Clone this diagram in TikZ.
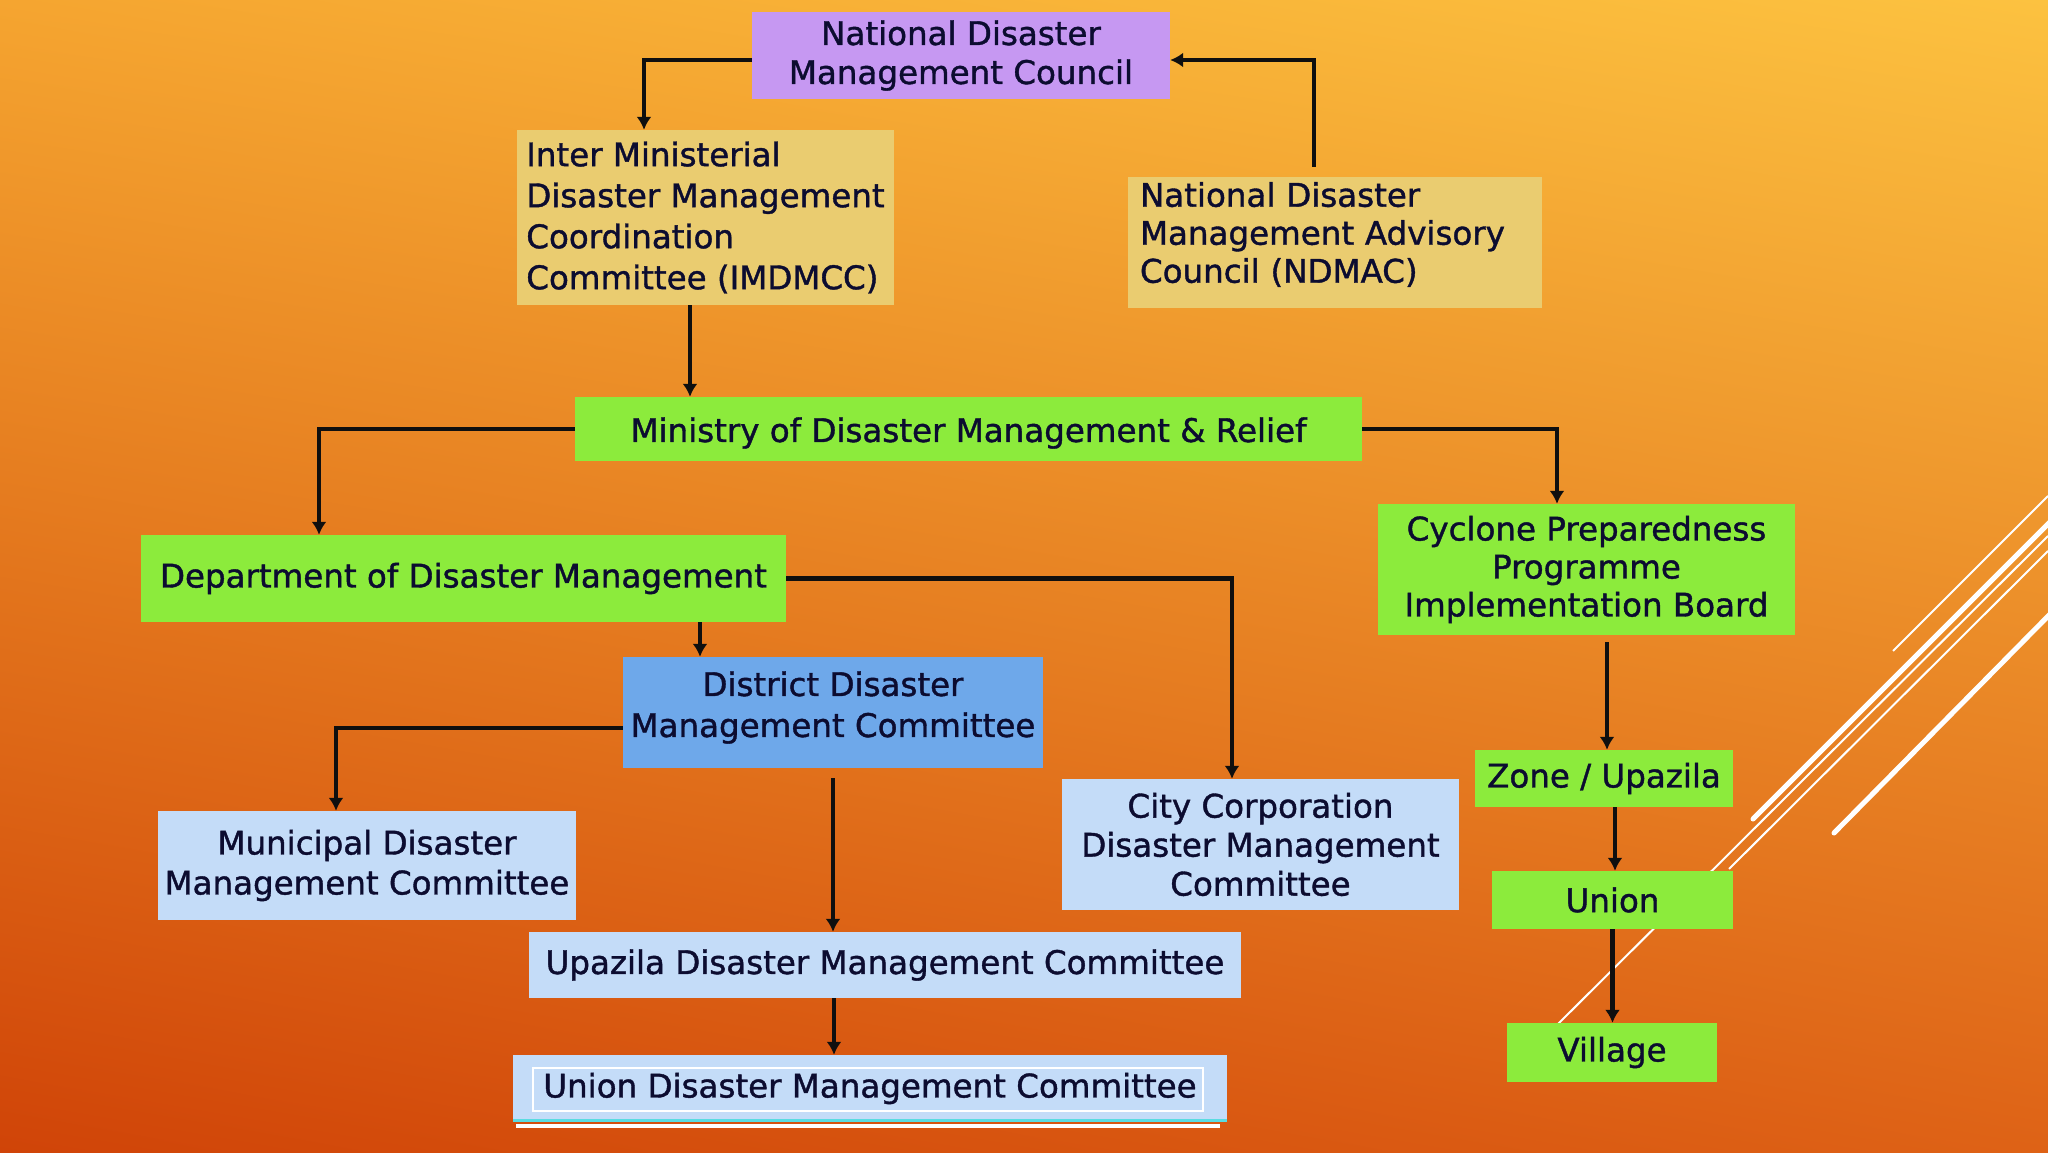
\documentclass[tikz,border=0pt]{standalone}
\usepackage{fontspec}
\setmainfont[FakeBold=1.2]{DejaVu Sans}
\usetikzlibrary{arrows.meta,calc,shadings}
\definecolor{txt}{RGB}{12,12,48}
\definecolor{grn}{RGB}{140,235,60}
\definecolor{pur}{RGB}{198,152,242}
\definecolor{tanb}{RGB}{234,204,112}
\definecolor{lbl}{RGB}{196,220,248}
\definecolor{dbl}{RGB}{110,168,234}
\definecolor{lnc}{RGB}{15,15,15}
\definecolor{cyn}{RGB}{90,220,225}
\definecolor{bgul}{RGB}{245,165,48}
\definecolor{bgur}{RGB}{252,194,64}
\definecolor{bgll}{RGB}{208,68,8}
\definecolor{bglr}{RGB}{222,98,22}
\newcommand\fsz[1]{\fontsize{32.5}{#1}\selectfont}
\begin{document}
\begin{tikzpicture}[x=1pt,y=-1pt,
  bx/.style={inner sep=0pt, align=center, text=txt, font=\fsz{39}},
  gbox/.style={bx, fill=grn},
  pbox/.style={bx, fill=pur},
  tbox/.style={bx, fill=tanb, align=left},
  lbox/.style={bx, fill=lbl},
  dbox/.style={bx, fill=dbl},
  arr/.style={draw=lnc, line width=4.5pt, -{Latex[length=13pt,width=15pt]}},
  thinw/.style={draw=white, line width=2pt},
  thickw/.style={draw=white, line width=5pt, line cap=round}]
\useasboundingbox (0,0) rectangle (2048,1152);
\shade[upper left=bgul, upper right=bgur, lower left=bgll, lower right=bglr] (0,0) rectangle (2048,1152);

% decorative lines
\draw[thinw] (1893,651) -- (2048,496);
\draw[thickw] (1753,819) -- (2060,512);
\draw[thinw] (1558,1024) -- (2048,536);
\draw[thinw] (1729,869) -- (2048,551);
\draw[thickw] (1834,833) -- (2060,604);

% boxes
\node[pbox, minimum width=418pt, minimum height=87pt] (ndmc) at (961,55.5) {National Disaster\\Management Council};
\node[tbox, font=\fsz{41}, minimum width=377pt, minimum height=175pt] (imdmcc) at (705.5,217.5) {Inter Ministerial\\Disaster Management\\Coordination\\Committee (IMDMCC)};
\node[tbox, minimum width=414pt, minimum height=131pt] (ndmac) at (1335,242.5) {};
\node[bx, align=left, font=\fsz{38}, text width=390pt, anchor=center] (ndmactxt) at ([yshift=8pt]ndmac.center) {National Disaster\\Management Advisory\\Council (NDMAC)};
\node[gbox, minimum width=787pt, minimum height=64pt] (ministry) at (968.5,429) {};
\node[bx] (ministrytxt) at ([yshift=-4pt]ministry.center) {Ministry of Disaster Management \& Relief};
\node[gbox, minimum width=645pt, minimum height=87pt] (dept) at (463.5,578.5) {Department of Disaster Management};
\node[gbox, font=\fsz{38}, minimum width=417pt, minimum height=131pt] (cppib) at (1586.5,569.5) {Cyclone Preparedness\\Programme\\Implementation Board};
\node[dbox, minimum width=420pt, minimum height=111pt] (district) at (833,712.5) {};
\node[bx, font=\fsz{41}] (districttxt) at ([yshift=5pt]district.center) {District Disaster\\Management Committee};
\node[lbox, font=\fsz{40}, minimum width=418pt, minimum height=109pt] (municipal) at (367,865.5) {Municipal Disaster\\Management Committee};
\node[lbox, minimum width=397pt, minimum height=131pt] (city) at (1260.5,844.5) {City Corporation\\Disaster Management\\Committee};
\node[lbox, minimum width=712pt, minimum height=66pt] (upazila) at (885,965) {Upazila Disaster Management Committee};
\node[lbox, minimum width=714pt, minimum height=67pt] (udmc) at (870,1088.5) {Union Disaster Management Committee};
\draw[white, line width=1.5pt] ($(udmc.north west)+(20,13)$) rectangle ($(udmc.south east)+(-24,-11)$);
\draw[cyn, line width=3pt] ($(udmc.south west)+(0,-2)$) -- ($(udmc.south east)+(0,-2)$);
\draw[white, line width=4pt] ($(udmc.south west)+(3,4)$) -- ($(udmc.south east)+(-7,4)$);
\node[gbox, minimum width=258pt, minimum height=57pt] (zone) at (1604,778.5) {Zone / Upazila};
\node[gbox, minimum width=241pt, minimum height=58pt] (union) at (1612.5,900) {Union};
\node[gbox, minimum width=210pt, minimum height=59pt] (village) at (1612,1052.5) {Village};

% connectors
\draw[arr] ([yshift=-4.5pt]ndmc.west) -| ([xshift=-61.5pt]imdmcc.north);
\draw[arr, shorten <=10pt] ([xshift=-21pt]ndmac.north) |- ([yshift=-4.5pt]ndmc.east);
\coordinate (c3) at ([xshift=-15.5pt]imdmcc.south);
\draw[arr] (c3) -- (c3 |- ministry.north);
\draw[arr] (ministry.west) -| ([xshift=-144.5pt]dept.north);
\draw[arr] (ministry.east) -| ([xshift=-29.5pt]cppib.north);
\draw[arr] (dept.east) -| ([xshift=-28.5pt]city.north);
\coordinate (c7) at ([xshift=236.5pt]dept.south);
\draw[arr] (c7) -- (c7 |- district.north);
\draw[arr] ([yshift=-15.5pt]district.west) -| ([xshift=-31pt]municipal.north);
\draw[arr, shorten <=10pt] (district.south) -- (district.south |- upazila.north);
\coordinate (c10) at ([xshift=-51pt]upazila.south);
\draw[arr] (c10) -- (c10 |- udmc.north);
\coordinate (c11) at ([xshift=20.5pt]cppib.south);
\draw[arr, shorten <=7pt] (c11) -- (c11 |- zone.north);
\coordinate (c12) at ([xshift=11pt]zone.south);
\draw[arr] (c12) -- (c12 |- union.north);
\coordinate (c13) at (union.south);
\draw[arr] (c13) -- (c13 |- village.north);
\end{tikzpicture}
\end{document}
